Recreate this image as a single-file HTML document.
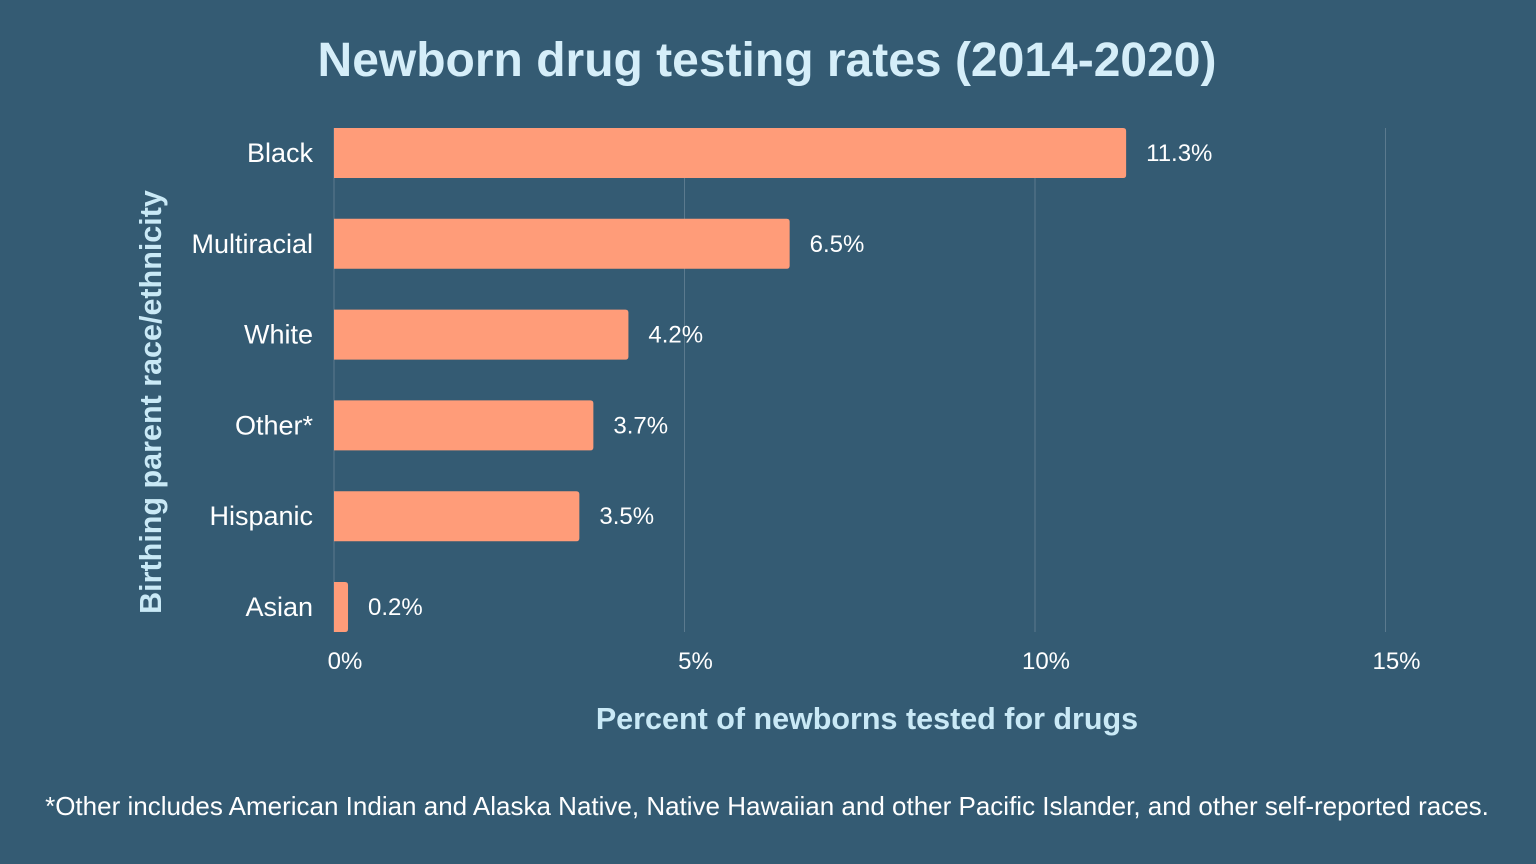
<!DOCTYPE html>
<html><head><meta charset="utf-8"><style>
body{margin:0;background:#345b73;}
svg{display:block;font-family:"Liberation Sans",sans-serif;}
</style></head><body>
<svg width="1536" height="864">
<rect width="1536" height="864" fill="#345b73"/>
<text x="767" y="76" text-anchor="middle" font-size="48" font-weight="bold" fill="#d5eef9">Newborn drug testing rates (2014-2020)</text>
<g id="grid"></g><g id="bars"></g>
<text x="867" y="729" text-anchor="middle" font-size="30.5" font-weight="bold" fill="#c9e9f6">Percent of newborns tested for drugs</text>
<text transform="translate(161,402) rotate(-90)" text-anchor="middle" font-size="30.5" font-weight="bold" fill="#c9e9f6">Birthing parent race/ethnicity</text>
<text x="767" y="815" text-anchor="middle" font-size="26" fill="#ffffff">*Other includes American Indian and Alaska Native, Native Hawaiian and other Pacific Islander, and other self-reported races.</text>
</svg>
<script>
const categories=["Black","Multiracial","White","Other*","Hispanic","Asian"];
const values=[11.3,6.5,4.2,3.7,3.5,0.2];
const valueLabels=["11.3%","6.5%","4.2%","3.7%","3.5%","0.2%"];
const ticks=[0,5,10,15];
const tickLabels=["0%","5%","10%","15%"];
const NS="http://www.w3.org/2000/svg";
const x0=334,pxPer=70.1,yTop=128,yBot=632;
const step=90.8;
const xs=v=>x0+v*pxPer;
const yc=i=>153+step*i;
function mk(t,a,p){const e=document.createElementNS(NS,t);for(const k in a)e.setAttribute(k,a[k]);p.appendChild(e);return e;}
const g=document.getElementById('grid'),b=document.getElementById('bars');
ticks.forEach((t,i)=>{
 const l=mk('line',{x1:xs(t),x2:xs(t),y1:yTop,y2:yBot,stroke:'#5b7a8e','stroke-width':1},g);
 
 
 const tx=mk('text',{x:xs(t)+11,y:669,'text-anchor':'middle','font-size':24,fill:'#ffffff'},g);
 tx.textContent=tickLabels[i];
 
 
});
categories.forEach((c,i)=>{
 const y=yc(i),w=values[i]*pxPer;
 const r=mk('path',{d:`M${x0},${y-25}h${w-3}q3,0 3,3v44q0,3 -3,3h${-(w-3)}z`,fill:'#ff9c79'},b);
 
 
 const lb=mk('text',{x:313,y:y+9,'text-anchor':'end','font-size':27,fill:'#ffffff'},b);
 lb.textContent=c;
 
 
 const vl=mk('text',{x:xs(values[i])+20,y:y+8,'font-size':24,fill:'#ffffff'},b);
 vl.textContent=valueLabels[i];
 
 
});
</script>
</body></html>
